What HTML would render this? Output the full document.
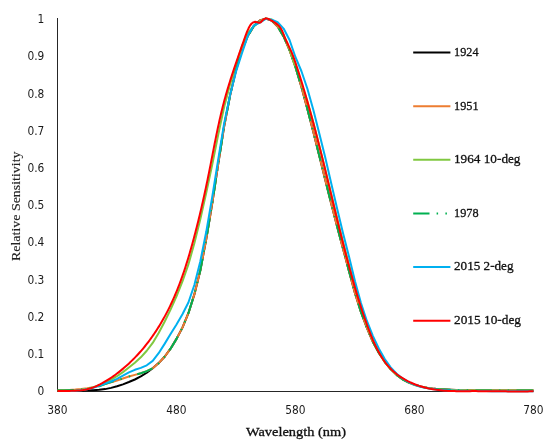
<!DOCTYPE html>
<html><head><meta charset="utf-8"><style>
html,body{margin:0;padding:0;background:#fff;}
svg{display:block;}
text.t{font-family:"DejaVu Sans Condensed","DejaVu Sans",sans-serif;font-size:11.8px;stroke:none;fill:#1a1a1a;}
text{font-family:"Liberation Serif",serif;font-size:13.5px;fill:#111;stroke:#111;stroke-width:0.3px;}
</style></head><body>
<svg width="550" height="444" viewBox="0 0 550 444">
<rect width="550" height="444" fill="#fff"/>
<g stroke-width="1" fill="none">
<line x1="57.5" y1="18" x2="57.5" y2="392" stroke="#262626"/>
<line x1="57" y1="391.5" x2="533.5" y2="391.5" stroke="#262626"/>
</g>
<g fill="none" stroke-linejoin="round">
<path d="M57.50,390.59 L63.45,390.58 L69.40,390.56 L75.35,390.52 L81.30,390.45 L87.25,390.36 L93.20,390.15 L99.15,389.79 L105.10,389.11 L111.05,387.88 L117.00,386.28 L122.95,384.34 L128.90,382.04 L134.85,379.51 L140.80,376.46 L146.75,372.74 L152.70,368.28 L158.65,363.11 L164.60,356.76 L170.55,348.71 L176.50,338.88 L182.45,327.62 L188.40,313.22 L194.35,294.40 L200.30,270.44 L206.25,239.08 L212.20,203.48 L218.15,164.35 L224.10,126.48 L230.05,95.53 L236.00,69.94 L241.95,50.28 L247.90,35.71 L253.85,25.93 L259.80,20.48 L265.75,18.60 L271.70,20.46 L277.65,26.56 L283.60,36.46 L289.55,50.07 L295.50,66.96 L301.45,86.94 L307.40,109.00 L313.35,132.10 L319.30,155.87 L325.25,179.75 L331.20,203.48 L337.15,226.47 L343.10,248.87 L349.05,271.19 L355.00,293.25 L360.95,311.89 L366.90,327.94 L372.85,341.76 L378.80,352.79 L384.75,361.76 L390.70,369.04 L396.65,374.85 L402.60,379.29 L408.55,382.40 L414.50,384.59 L420.45,386.39 L426.40,387.70 L432.35,388.58 L438.30,389.15 L444.25,389.56 L450.20,389.86 L456.15,390.08 L462.10,390.23 L468.05,390.34 L474.00,390.42 L479.95,390.47 L485.90,390.51 L491.85,390.54 L497.80,390.56 L503.75,390.57 L509.70,390.58 L515.65,390.59 L521.60,390.59 L527.55,390.59 L533.50,390.59" stroke="#000000" stroke-width="2"/>
<path d="M57.50,390.45 L63.45,390.31 L69.40,390.04 L75.35,389.58 L81.30,388.93 L87.25,388.14 L93.20,387.14 L99.15,385.75 L105.10,384.09 L111.05,382.33 L117.00,380.44 L122.95,378.45 L128.90,376.50 L134.85,374.89 L140.80,373.19 L146.75,371.11 L152.70,368.28 L158.65,363.11 L164.60,356.76 L170.55,348.71 L176.50,338.88 L182.45,327.62 L188.40,313.22 L194.35,294.40 L200.30,270.44 L206.25,239.08 L212.20,203.48 L218.15,164.35 L224.10,126.48 L230.05,95.53 L236.00,69.94 L241.95,50.28 L247.90,35.71 L253.85,25.93 L259.80,20.48 L265.75,18.60 L271.70,20.46 L277.65,26.56 L283.60,36.46 L289.55,50.07 L295.50,66.96 L301.45,86.94 L307.40,109.00 L313.35,132.10 L319.30,155.87 L325.25,179.75 L331.20,203.48 L337.15,226.47 L343.10,248.87 L349.05,271.19 L355.00,293.25 L360.95,311.89 L366.90,327.94 L372.85,341.76 L378.80,352.79 L384.75,361.76 L390.70,369.04 L396.65,374.85 L402.60,379.29 L408.55,382.40 L414.50,384.59 L420.45,386.39 L426.40,387.70 L432.35,388.58 L438.30,389.15 L444.25,389.56 L450.20,389.86 L456.15,390.08 L462.10,390.23 L468.05,390.34 L474.00,390.42 L479.95,390.47 L485.90,390.51 L491.85,390.54 L497.80,390.56 L503.75,390.57 L509.70,390.58 L515.65,390.59 L521.60,390.59 L527.55,390.59 L533.50,390.59" stroke="#ED7D31" stroke-width="2"/>
<path d="M57.50,390.59 L63.45,390.57 L69.40,390.51 L75.35,390.29 L81.30,389.85 L87.25,388.88 L93.20,387.34 L99.15,385.26 L105.10,382.64 L111.05,379.67 L117.00,376.21 L122.95,372.11 L128.90,367.51 L134.85,362.73 L140.80,357.32 L146.75,350.77 L152.70,342.91 L158.65,333.06 L164.60,321.71 L170.55,309.63 L176.50,296.26 L182.45,281.49 L188.40,264.44 L194.35,243.32 L200.30,219.19 L206.25,192.86 L212.20,164.89 L218.15,135.16 L224.10,107.23 L230.05,84.60 L236.00,65.02 L241.95,46.37 L247.90,32.74 L253.85,26.10 L259.80,21.66 L265.75,18.60 L271.70,19.59 L277.65,25.14 L283.60,35.13 L289.55,49.73 L295.50,67.36 L301.45,83.71 L307.40,101.41 L313.35,122.58 L319.30,145.70 L325.25,169.68 L331.20,194.20 L337.15,218.66 L343.10,242.52 L349.05,265.03 L355.00,286.46 L360.95,307.59 L366.90,326.21 L372.85,340.79 L378.80,352.56 L384.75,361.92 L390.70,369.30 L396.65,375.00 L402.60,379.36 L408.55,382.60 L414.50,384.98 L420.45,386.66 L426.40,387.86 L432.35,388.70 L438.30,389.29 L444.25,389.69 L450.20,389.98 L456.15,390.17 L462.10,390.30 L468.05,390.39 L474.00,390.46 L479.95,390.50 L485.90,390.53 L491.85,390.55 L497.80,390.57 L503.75,390.58 L509.70,390.58 L515.65,390.59 L521.60,390.59 L527.55,390.59 L533.50,390.60" stroke="#80C840" stroke-width="2"/>
<path d="M57.50,390.53 L63.45,390.45 L69.40,390.30 L75.35,390.03 L81.30,389.56 L87.25,388.87 L93.20,387.85 L99.15,386.21 L105.10,384.09 L111.05,382.16 L117.00,380.44 L122.95,378.47 L128.90,376.50 L134.85,374.83 L140.80,373.19 L146.75,371.22 L152.70,368.28 L158.65,363.48 L164.60,356.76 L170.55,348.71 L176.50,338.88 L182.45,327.62 L188.40,313.22 L194.35,294.40 L200.30,270.44 L206.25,239.08 L212.20,203.48 L218.15,164.35 L224.10,126.48 L230.05,95.53 L236.00,69.94 L241.95,50.28 L247.90,35.71 L253.85,25.93 L259.80,20.48 L265.75,18.60 L271.70,20.46 L277.65,26.56 L283.60,36.46 L289.55,50.07 L295.50,66.96 L301.45,86.94 L307.40,109.00 L313.35,132.10 L319.30,155.87 L325.25,179.75 L331.20,203.48 L337.15,226.47 L343.10,248.87 L349.05,271.19 L355.00,293.25 L360.95,311.89 L366.90,327.94 L372.85,341.76 L378.80,352.79 L384.75,361.76 L390.70,369.04 L396.65,374.85 L402.60,379.29 L408.55,382.40 L414.50,384.59 L420.45,386.39 L426.40,387.70 L432.35,388.58 L438.30,389.15 L444.25,389.56 L450.20,389.86 L456.15,390.08 L462.10,390.23 L468.05,390.34 L474.00,390.42 L479.95,390.47 L485.90,390.51 L491.85,390.54 L497.80,390.56 L503.75,390.57 L509.70,390.58 L515.65,390.59 L521.60,390.59 L527.55,390.59 L533.50,390.59" stroke="#00B050" stroke-width="2" stroke-dasharray="16.3 7.1 1.5 7.3 1.5 7.3"/>
<path d="M69.40,391.05 L75.35,390.81 L81.30,390.29 L87.25,389.35 L93.20,387.82 L99.15,385.87 L105.10,383.65 L111.05,381.47 L117.00,378.83 L122.95,375.71 L128.90,372.44 L134.85,369.80 L140.80,367.91 L146.75,365.30 L152.70,360.83 L158.65,353.19 L164.60,343.88 L170.55,334.00 L176.50,324.58 L182.45,314.26 L188.40,302.55 L194.35,284.98 L200.30,261.40 L206.25,231.82 L212.20,197.26 L218.15,159.95 L224.10,123.64 L230.05,95.12 L236.00,71.67 L241.95,53.20 L247.90,35.57 L253.85,25.53 L259.80,22.69 L265.75,18.80 L271.70,19.80 L277.65,22.23 L283.60,28.56 L289.55,40.04 L295.50,57.22 L301.45,71.24 L307.40,88.80 L313.35,110.08 L319.30,133.41 L325.25,157.58 L331.20,183.15 L337.15,208.78 L343.10,233.59 L349.05,256.72 L355.00,281.24 L360.95,302.95 L366.90,320.97 L372.85,335.85 L378.80,348.52 L384.75,359.08 L390.70,367.34 L396.65,373.67 L402.60,378.47 L408.55,382.06 L414.50,384.73 L420.45,386.69 L426.40,388.10 L432.35,389.04 L438.30,389.70 L444.25,390.16 L450.20,390.49 L456.15,390.71 L462.10,390.86 L468.05,390.96 L474.00,391.04 L479.95,391.09 L485.90,391.12 L491.85,391.15 L497.80,391.16 L503.75,391.17 L509.70,391.18 L515.65,391.19 L521.60,391.19 L527.55,391.19 L533.50,391.20" stroke="#00B0F0" stroke-width="2"/>
<path d="M57.50,391.10 L59.47,391.05 L61.44,391.02 L63.42,390.99 L65.40,390.97 L67.39,390.94 L69.37,390.91 L71.36,390.86 L73.34,390.79 L75.32,390.70 L77.30,390.57 L79.28,390.42 L81.25,390.22 L83.21,389.97 L85.16,389.67 L87.09,389.28 L89.00,388.81 L90.89,388.25 L92.76,387.60 L94.61,386.89 L96.43,386.11 L98.23,385.26 L100.01,384.37 L101.77,383.44 L103.50,382.47 L105.21,381.47 L106.90,380.45 L108.57,379.40 L110.22,378.33 L111.86,377.23 L113.47,376.11 L115.06,374.96 L116.64,373.79 L118.21,372.60 L119.76,371.38 L121.29,370.15 L122.81,368.89 L124.32,367.60 L125.81,366.30 L127.29,364.98 L128.76,363.64 L130.20,362.28 L131.63,360.90 L133.05,359.50 L134.44,358.09 L135.82,356.66 L137.18,355.22 L138.52,353.76 L139.84,352.29 L141.15,350.80 L142.44,349.29 L143.70,347.78 L144.96,346.25 L146.19,344.70 L147.41,343.14 L148.61,341.57 L149.79,339.99 L150.96,338.39 L152.11,336.78 L153.24,335.16 L154.36,333.53 L155.46,331.89 L156.54,330.23 L157.61,328.57 L158.66,326.89 L159.70,325.20 L160.72,323.51 L161.72,321.80 L162.71,320.09 L163.68,318.36 L164.64,316.63 L165.58,314.89 L166.51,313.14 L167.42,311.38 L168.32,309.62 L169.20,307.85 L170.07,306.07 L170.93,304.28 L171.76,302.49 L172.59,300.69 L173.40,298.89 L174.20,297.08 L174.98,295.26 L175.75,293.44 L176.51,291.61 L177.25,289.78 L177.98,287.94 L178.70,286.10 L179.41,284.25 L180.11,282.40 L180.79,280.54 L181.47,278.68 L182.13,276.82 L182.79,274.95 L183.43,273.08 L184.07,271.20 L184.69,269.33 L185.31,267.44 L185.91,265.56 L186.51,263.67 L187.10,261.78 L187.69,259.88 L188.26,257.99 L188.83,256.09 L189.39,254.19 L189.94,252.28 L190.49,250.38 L191.03,248.47 L191.57,246.56 L192.10,244.65 L192.63,242.74 L193.15,240.83 L193.66,238.92 L194.17,237.00 L194.68,235.09 L195.18,233.17 L195.68,231.26 L196.17,229.34 L196.66,227.42 L197.15,225.50 L197.63,223.58 L198.11,221.66 L198.58,219.74 L199.05,217.81 L199.51,215.89 L199.97,213.96 L200.43,212.04 L200.88,210.11 L201.33,208.18 L201.78,206.26 L202.22,204.33 L202.66,202.40 L203.09,200.47 L203.52,198.54 L203.95,196.60 L204.37,194.67 L204.80,192.74 L205.21,190.80 L205.63,188.87 L206.04,186.93 L206.45,185.00 L206.86,183.06 L207.26,181.13 L207.66,179.19 L208.06,177.25 L208.45,175.31 L208.84,173.37 L209.23,171.43 L209.62,169.49 L210.01,167.55 L210.39,165.61 L210.77,163.66 L211.15,161.72 L211.53,159.78 L211.90,157.84 L212.28,155.89 L212.66,153.95 L213.03,152.01 L213.41,150.07 L213.79,148.12 L214.17,146.18 L214.55,144.24 L214.93,142.30 L215.32,140.36 L215.71,138.41 L216.10,136.48 L216.49,134.54 L216.89,132.60 L217.29,130.66 L217.70,128.72 L218.11,126.79 L218.53,124.85 L218.95,122.92 L219.37,120.99 L219.81,119.06 L220.25,117.13 L220.69,115.20 L221.15,113.27 L221.61,111.35 L222.08,109.42 L222.55,107.50 L223.04,105.58 L223.53,103.66 L224.03,101.74 L224.55,99.83 L225.07,97.92 L225.60,96.01 L226.14,94.10 L226.69,92.19 L227.24,90.29 L227.81,88.39 L228.38,86.49 L228.96,84.59 L229.54,82.69 L230.14,80.80 L230.74,78.90 L231.34,77.01 L231.95,75.13 L232.57,73.24 L233.19,71.35 L233.81,69.47 L234.44,67.59 L235.07,65.71 L235.71,63.84 L236.35,61.96 L236.99,60.09 L237.64,58.22 L238.28,56.35 L238.93,54.48 L239.58,52.61 L240.24,50.75 L240.89,48.89 L241.54,47.03 L242.19,45.17 L242.85,43.31 L243.50,41.46 L244.15,39.60 L244.81,37.75 L245.47,35.90 L246.15,34.06 L246.86,32.21 L247.63,30.37 L248.46,28.54 L249.37,26.72 L250.41,25.00 L251.67,23.51 L253.22,22.39 L255.10,21.82 L257.06,22.23 L258.95,22.86 L260.71,22.21 L262.18,20.75 L263.59,19.33 L265.41,18.52 L267.32,18.59 L269.19,19.30 L270.98,20.26 L272.69,21.24 L274.36,22.27 L275.98,23.39 L277.53,24.64 L278.96,26.01 L280.21,27.53 L281.26,29.19 L282.16,30.96 L282.96,32.79 L283.71,34.67 L284.46,36.53 L285.24,38.37 L286.05,40.19 L286.87,41.99 L287.70,43.78 L288.54,45.56 L289.37,47.34 L290.18,49.12 L290.98,50.92 L291.75,52.73 L292.49,54.56 L293.20,56.40 L293.89,58.26 L294.56,60.12 L295.21,61.99 L295.85,63.87 L296.48,65.76 L297.10,67.64 L297.72,69.53 L298.33,71.42 L298.93,73.30 L299.53,75.19 L300.12,77.08 L300.71,78.97 L301.29,80.86 L301.87,82.76 L302.45,84.65 L303.02,86.54 L303.58,88.44 L304.15,90.33 L304.70,92.23 L305.26,94.13 L305.81,96.03 L306.36,97.92 L306.90,99.83 L307.45,101.73 L307.99,103.63 L308.52,105.54 L309.06,107.44 L309.59,109.35 L310.11,111.25 L310.64,113.16 L311.16,115.07 L311.68,116.98 L312.20,118.89 L312.71,120.80 L313.23,122.72 L313.74,124.63 L314.24,126.54 L314.75,128.46 L315.25,130.37 L315.75,132.29 L316.25,134.20 L316.75,136.12 L317.24,138.04 L317.74,139.96 L318.23,141.88 L318.72,143.80 L319.20,145.72 L319.69,147.64 L320.17,149.56 L320.66,151.48 L321.14,153.40 L321.62,155.32 L322.09,157.24 L322.57,159.17 L323.04,161.09 L323.52,163.01 L323.99,164.93 L324.46,166.86 L324.93,168.78 L325.40,170.70 L325.87,172.63 L326.33,174.55 L326.80,176.47 L327.26,178.40 L327.73,180.32 L328.19,182.24 L328.65,184.17 L329.12,186.09 L329.58,188.01 L330.04,189.94 L330.50,191.86 L330.96,193.79 L331.43,195.71 L331.89,197.63 L332.35,199.56 L332.81,201.48 L333.27,203.40 L333.73,205.32 L334.20,207.25 L334.66,209.17 L335.12,211.09 L335.59,213.02 L336.05,214.94 L336.52,216.86 L336.98,218.78 L337.45,220.70 L337.92,222.63 L338.39,224.55 L338.86,226.47 L339.33,228.39 L339.80,230.31 L340.28,232.23 L340.75,234.15 L341.23,236.07 L341.71,237.99 L342.19,239.91 L342.68,241.83 L343.16,243.75 L343.65,245.67 L344.14,247.59 L344.63,249.50 L345.12,251.42 L345.62,253.34 L346.11,255.25 L346.61,257.17 L347.12,259.09 L347.62,261.00 L348.13,262.92 L348.64,264.83 L349.16,266.75 L349.67,268.66 L350.19,270.57 L350.71,272.49 L351.24,274.40 L351.77,276.31 L352.30,278.22 L352.84,280.13 L353.38,282.04 L353.92,283.95 L354.47,285.85 L355.03,287.76 L355.58,289.66 L356.14,291.56 L356.71,293.46 L357.28,295.36 L357.86,297.26 L358.44,299.15 L359.03,301.04 L359.62,302.93 L360.22,304.82 L360.82,306.70 L361.43,308.58 L362.04,310.46 L362.67,312.34 L363.29,314.21 L363.93,316.08 L364.57,317.95 L365.22,319.81 L365.87,321.67 L366.53,323.52 L367.20,325.37 L367.88,327.22 L368.56,329.06 L369.25,330.90 L369.96,332.74 L370.67,334.57 L371.40,336.39 L372.15,338.22 L372.91,340.03 L373.70,341.84 L374.51,343.65 L375.34,345.45 L376.21,347.24 L377.10,349.03 L378.03,350.81 L378.99,352.58 L379.99,354.34 L381.02,356.07 L382.08,357.78 L383.19,359.47 L384.33,361.12 L385.52,362.74 L386.74,364.32 L388.01,365.85 L389.33,367.34 L390.68,368.78 L392.08,370.16 L393.53,371.50 L395.01,372.78 L396.53,374.02 L398.09,375.20 L399.69,376.34 L401.32,377.43 L402.98,378.47 L404.67,379.47 L406.39,380.42 L408.14,381.33 L409.92,382.19 L411.72,383.00 L413.54,383.77 L415.38,384.50 L417.24,385.19 L419.12,385.84 L421.02,386.44 L422.93,387.00 L424.86,387.53 L426.79,388.01 L428.74,388.45 L430.69,388.86 L432.65,389.23 L434.62,389.56 L436.58,389.85 L438.55,390.11 L440.53,390.34 L442.50,390.53 L444.47,390.69 L446.44,390.82 L448.41,390.92 L450.38,391.01 L452.35,391.07 L454.33,391.12 L456.30,391.14 L458.27,391.16 L460.25,391.17 L462.22,391.17 L464.19,391.16 L466.17,391.15 L468.15,391.14 L470.12,391.13 L472.10,391.12 L474.08,391.12 L476.06,391.12 L478.04,391.13 L480.02,391.14 L482.00,391.15 L483.99,391.16 L485.97,391.18 L487.95,391.19 L489.93,391.21 L491.92,391.23 L493.90,391.25 L495.88,391.27 L497.87,391.29 L499.85,391.31 L501.84,391.33 L503.82,391.35 L505.80,391.37 L507.78,391.39 L509.77,391.40 L511.75,391.41 L513.73,391.42 L515.71,391.43 L517.69,391.43 L519.67,391.43 L521.65,391.42 L523.63,391.42 L525.60,391.40 L527.58,391.38 L529.55,391.36 L531.53,391.33 L533.50,391.30" stroke="#FF0000" stroke-width="2"/>
</g>
<g fill="none">
<line x1="413.2" y1="52.6" x2="450.4" y2="52.6" stroke="#000000" stroke-width="2"/>
<line x1="413.2" y1="106.2" x2="450.4" y2="106.2" stroke="#ED7D31" stroke-width="2"/>
<line x1="413.2" y1="159.8" x2="450.4" y2="159.8" stroke="#80C840" stroke-width="2"/>
<line x1="413.2" y1="213.4" x2="450.4" y2="213.4" stroke="#00B050" stroke-width="2" stroke-dasharray="16.3 7.1 1.5 7.3 1.5 7.3"/>
<line x1="413.2" y1="267.0" x2="450.4" y2="267.0" stroke="#00B0F0" stroke-width="2"/>
<line x1="413.2" y1="320.7" x2="450.4" y2="320.7" stroke="#FF0000" stroke-width="2"/>
</g>
<text x="454" y="55.9" textLength="24.5" lengthAdjust="spacingAndGlyphs">1924</text>
<text x="454" y="109.5" textLength="24.5" lengthAdjust="spacingAndGlyphs">1951</text>
<text x="454" y="163.1" textLength="66.5" lengthAdjust="spacingAndGlyphs">1964 10-deg</text>
<text x="454" y="216.7" textLength="24.5" lengthAdjust="spacingAndGlyphs">1978</text>
<text x="454" y="270.3" textLength="59.5" lengthAdjust="spacingAndGlyphs">2015 2-deg</text>
<text x="454" y="324.0" textLength="67" lengthAdjust="spacingAndGlyphs">2015 10-deg</text>
<text class="t" x="44.3" y="395.2" text-anchor="end">0</text>
<text class="t" x="44.3" y="358.0" text-anchor="end">0.1</text>
<text class="t" x="44.3" y="320.8" text-anchor="end">0.2</text>
<text class="t" x="44.3" y="283.6" text-anchor="end">0.3</text>
<text class="t" x="44.3" y="246.4" text-anchor="end">0.4</text>
<text class="t" x="44.3" y="209.2" text-anchor="end">0.5</text>
<text class="t" x="44.3" y="172.0" text-anchor="end">0.6</text>
<text class="t" x="44.3" y="134.8" text-anchor="end">0.7</text>
<text class="t" x="44.3" y="97.6" text-anchor="end">0.8</text>
<text class="t" x="44.3" y="60.4" text-anchor="end">0.9</text>
<text class="t" x="44.3" y="23.2" text-anchor="end">1</text>
<text class="t" x="57.5" y="414" text-anchor="middle">380</text>
<text class="t" x="176.5" y="414" text-anchor="middle">480</text>
<text class="t" x="295.5" y="414" text-anchor="middle">580</text>
<text class="t" x="414.5" y="414" text-anchor="middle">680</text>
<text class="t" x="533.5" y="414" text-anchor="middle">780</text>
<text x="246" y="435.5" textLength="100" lengthAdjust="spacingAndGlyphs" style="font-size:13px">Wavelength (nm)</text>
<text transform="translate(19.9,261) rotate(-90)" textLength="109.5" lengthAdjust="spacingAndGlyphs" style="font-size:13px;stroke:#222;stroke-width:0.12px;fill:#222">Relative Sensitivity</text>
</svg>
</body></html>
